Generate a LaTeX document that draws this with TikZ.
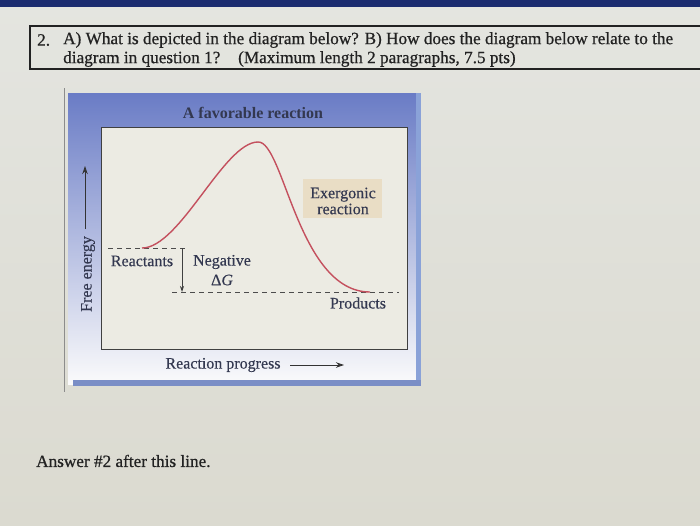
\documentclass[tikz,border=0pt]{standalone}
\usepackage{fontspec}
\setmainfont{Liberation Serif}
\newfontfamily\qfont[FakeBold=0.7]{Liberation Serif}
\newfontfamily\dfont[FakeBold=0.3]{Liberation Serif}
\usetikzlibrary{arrows.meta,fadings}
\definecolor{pagebg}{HTML}{E4E5E0}
\definecolor{pagebot}{HTML}{DBDAD0}
\definecolor{bandblue}{HTML}{1B2C70}
\definecolor{panelblue}{HTML}{6A7CC6}
\definecolor{borderblue}{HTML}{8AA2D8}
\definecolor{barblue}{HTML}{7A8EC6}
\definecolor{plotbg}{HTML}{ECEBE3}
\definecolor{tanbg}{HTML}{E9DDC5}
\definecolor{curvered}{HTML}{C4505E}
\definecolor{labtext}{HTML}{333850}
\definecolor{qtext}{HTML}{222222}
\tikzset{
  lab/.style={font=\dfont\fontsize{16}{18}\selectfont, text=labtext, inner sep=0pt},
  qlab/.style={font=\qfont\fontsize{17.2}{19}\selectfont, text=qtext, inner sep=0pt, anchor=west},
  dashline/.style={draw=black!70, line width=0.9pt, dash pattern=on 5pt off 4pt},
  axarrow/.style={draw=black!80, line width=0.9pt, -{Stealth[length=8pt,width=5.5pt]}},
  dgarrow/.style={draw=black!75, line width=0.8pt, -{Stealth[length=6pt,width=4pt]}}
}
\begin{document}
\begin{tikzpicture}[x=1pt,y=-1pt]
\useasboundingbox (0,0) rectangle (700,525);
% page background
\shade[top color=pagebg, bottom color=pagebot] (0,0) rectangle (700,525);
% screen title band
\fill[bandblue] (0,0) rectangle (700,7);
% question box
\draw[qtext, line width=1.2pt] (705,26) -- (30,26) -- (30,69) -- (705,69);
\node[qlab] (qnum) at (37,40) {2.};
\node[qlab] (qline1) at (63,40) {A) What is depicted in the diagram below? B) How does the diagram below relate to the};
\node[qlab] (qline2) at (63,59) {diagram in question 1?\hspace{0.7em} (Maximum length 2 paragraphs, 7.5 pts)};
% left margin line
\draw[black!45, line width=0.6pt] (64,88) -- (64,392);
% panel
\fill[white!90!pagebg] (68,93) rectangle (420,385);
\fill[panelblue, path fading=south] (68,93) rectangle (420,385);
\fill[borderblue] (416,93) rectangle (421,386);
\fill[barblue] (73,380) rectangle (421,386);
% plot area
\draw[fill=plotbg, draw=black!75, line width=0.9pt] (101,127) rectangle (407,349);
\node[lab, font=\fontsize{16}{18}\selectfont\bfseries] (title) at (253,113) {A favorable reaction};
% exergonic box
\node[fill=tanbg, minimum width=79pt, minimum height=39pt, inner sep=0pt] (exbox) at (342.5,198.5) {};
\node[lab, align=center, font=\dfont\fontsize{16}{16}\selectfont] (exlab) at (343,201) {Exergonic\\reaction};
% dashed levels
\draw[dashline] (108,248) -- (186,248);
\draw[dashline] (172,292) -- (399,292);
% curve
\coordinate (react) at (142,248);
\coordinate (peak) at (258,142);
\coordinate (prod) at (370,292);
\draw[curvered, line width=1.4pt] (react) .. controls (180,248) and (224,142) .. (peak)
  .. controls (284,141) and (298,292) .. (prod);
% delta G arrow
\coordinate (dgtop) at (182,248);
\coordinate (dgbot) at (182,292);
\draw[dgarrow] (dgtop) -- (dgbot);
\node[lab] (reactants) at (142,261) {Reactants};
\node[lab] (negative) at (222,262) {Negative};
\node[lab] (dg) at (222,280) {Δ\textit{G}};
\node[lab] (products) at (358,303) {Products};
% axis labels
\node[lab] (xlab) at (223,365) {Reaction progress};
\coordinate (xa1) at (290,365);
\coordinate (xa2) at (344,365);
\draw[axarrow] (xa1) -- (xa2);
\node[lab, rotate=90] (ylab) at (88,274) {Free energy};
\coordinate (ya1) at (85,229);
\coordinate (ya2) at (85,166);
\draw[axarrow] (ya1) -- (ya2);
% answer line
\node[qlab] (answer) at (36,461) {Answer \#2 after this line.};
\end{tikzpicture}
\end{document}
